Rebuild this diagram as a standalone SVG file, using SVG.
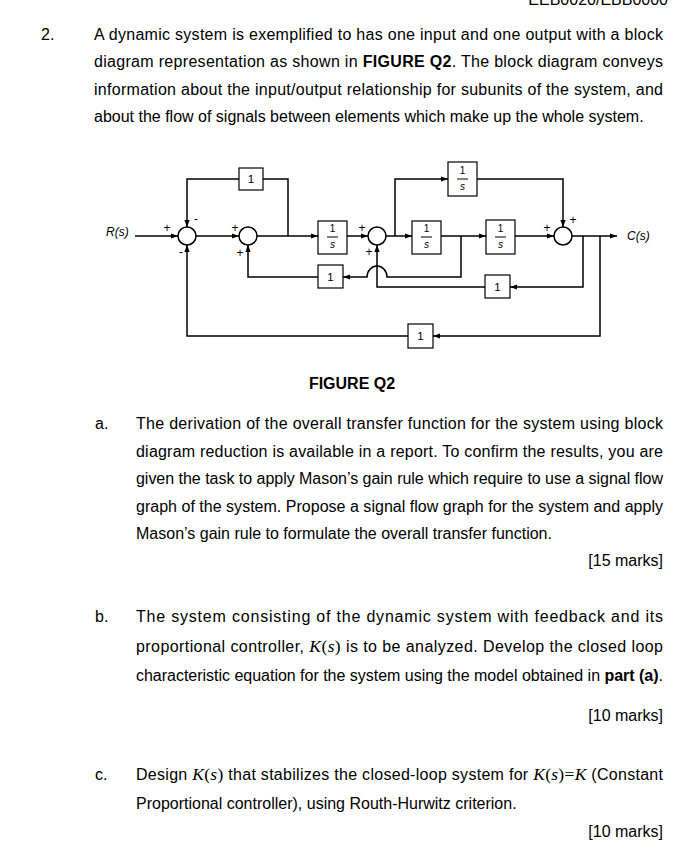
<svg xmlns="http://www.w3.org/2000/svg" width="686" height="862" viewBox="0 0 686 862">
<defs>
<marker id="arr" markerUnits="userSpaceOnUse" markerWidth="8" markerHeight="6" refX="7" refY="3" orient="auto">
<path d="M0,0.4 L7,3 L0,5.6 Z" fill="#000"/>
</marker>
<style>
.t{font-family:"Liberation Sans",Arial,sans-serif;font-size:16px;fill:#000}
.b{font-weight:bold}
.m{font-family:"Liberation Serif","Times New Roman",serif;font-size:17.5px}
.i{font-style:italic}
.w{fill:none;stroke:#000;stroke-width:1.5}
.bx{fill:#fff;stroke:#000;stroke-width:1.2}
.sj{fill:#fff;stroke:#000;stroke-width:1.5}
.lb{font-family:"Liberation Sans",Arial,sans-serif;font-size:11.5px;fill:#000;text-anchor:middle}
.fr{font-family:"Liberation Sans",Arial,sans-serif;font-size:10px;fill:#000;text-anchor:middle}
.sg{font-family:"Liberation Sans",Arial,sans-serif;font-size:12px;fill:#000;text-anchor:middle}
.io{font-family:"Liberation Sans",Arial,sans-serif;font-size:12px;font-style:italic;fill:#000}
</style>
</defs>
<rect width="686" height="862" fill="#fff"/>

<text class="t" x="668" y="5" text-anchor="end">EEB0020/EBB0000</text>

<text class="t" x="41" y="40">2.</text>
<text class="t" x="94" y="40" textLength="569" lengthAdjust="spacing">A dynamic system is exemplified to has one input and one output with a block</text>
<text class="t" x="94" y="67" textLength="569" lengthAdjust="spacing">diagram representation as shown in <tspan class="b">FIGURE Q2</tspan>. The block diagram conveys</text>
<text class="t" x="94" y="95" textLength="569" lengthAdjust="spacing">information about the input/output relationship for subunits of the system, and</text>
<text class="t" x="94" y="122">about the flow of signals between elements which make up the whole system.</text>

<g id="connectors">
<path class="w" d="M135 236 H178" marker-end="url(#arr)"/>
<path class="w" d="M196 236 H239" marker-end="url(#arr)"/>
<path class="w" d="M257 236 H318" marker-end="url(#arr)"/>
<path class="w" d="M288 236 V179 H263"/>
<path class="w" d="M239 179 H187 V227" marker-end="url(#arr)"/>
<path class="w" d="M347 236 H368" marker-end="url(#arr)"/>
<path class="w" d="M386 236 H412" marker-end="url(#arr)"/>
<path class="w" d="M395 236 V179 H448" marker-end="url(#arr)"/>
<path class="w" d="M477 179 H563 V227" marker-end="url(#arr)"/>
<path class="w" d="M441 236 H486" marker-end="url(#arr)"/>
<path class="w" d="M461 236 V277 H387 A10 11 0 0 0 367 277 H343" marker-end="url(#arr)"/>
<path class="w" d="M318 277 H248 V245" marker-end="url(#arr)"/>
<path class="w" d="M515 236 H554" marker-end="url(#arr)"/>
<path class="w" d="M572 236 H617" marker-end="url(#arr)"/>
<path class="w" d="M583 236 V287 H510" marker-end="url(#arr)"/>
<path class="w" d="M485 287 H377 V245" marker-end="url(#arr)"/>
<path class="w" d="M600 236 V336 H433" marker-end="url(#arr)"/>
<path class="w" d="M408 336 H187 V245" marker-end="url(#arr)"/>
</g>

<g id="input">
<text class="io" x="106" y="236">R(s)</text>
</g>
<g id="output">
<text class="io" x="627" y="240">C(s)</text>
</g>

<g id="sum1">
<circle class="sj" cx="187" cy="236" r="9"/>
<text class="sg" x="167" y="232">+</text>
<text class="sg" x="196" y="223">-</text>
<text class="sg" x="181" y="256">-</text>
</g>
<g id="sum2">
<circle class="sj" cx="248" cy="236" r="9"/>
<text class="sg" x="235" y="232">+</text>
<text class="sg" x="240" y="257">+</text>
</g>
<g id="sum3">
<circle class="sj" cx="377" cy="236" r="9"/>
<text class="sg" x="362" y="232">+</text>
<text class="sg" x="369" y="256">+</text>
</g>
<g id="sum4">
<circle class="sj" cx="563" cy="236" r="9"/>
<text class="sg" x="547" y="232">+</text>
<text class="sg" x="573" y="224">+</text>
</g>

<g id="gain-top">
<rect class="bx" x="239" y="168" width="24" height="22"/>
<text class="lb" x="251" y="183">1</text>
</g>
<g id="int1">
<rect class="bx" x="318" y="221" width="29" height="33"/>
<text class="fr" x="332.5" y="232">1</text>
<line x1="327" y1="237" x2="338" y2="237" stroke="#000" stroke-width="1"/>
<text class="fr i" x="332.5" y="248">s</text>
</g>
<g id="int-top">
<rect class="bx" x="448" y="162" width="29" height="34"/>
<text class="fr" x="462.5" y="174">1</text>
<line x1="457" y1="179" x2="468" y2="179" stroke="#000" stroke-width="1"/>
<text class="fr i" x="462.5" y="190">s</text>
</g>
<g id="int2">
<rect class="bx" x="412" y="221" width="29" height="33"/>
<text class="fr" x="426.5" y="232">1</text>
<line x1="421" y1="237" x2="432" y2="237" stroke="#000" stroke-width="1"/>
<text class="fr i" x="426.5" y="248">s</text>
</g>
<g id="int3">
<rect class="bx" x="486" y="220" width="29" height="34"/>
<text class="fr" x="500.5" y="232">1</text>
<line x1="495" y1="237" x2="506" y2="237" stroke="#000" stroke-width="1"/>
<text class="fr i" x="500.5" y="248">s</text>
</g>
<g id="gain-mid">
<rect class="bx" x="318" y="265" width="25" height="23"/>
<text class="lb" x="330.5" y="281">1</text>
</g>
<g id="gain-right">
<rect class="bx" x="485" y="275" width="25" height="23"/>
<text class="lb" x="497.5" y="291">1</text>
</g>
<g id="gain-bottom">
<rect class="bx" x="408" y="324" width="25" height="24"/>
<text class="lb" x="420.5" y="340">1</text>
</g>

<text class="t b" x="352" y="389" text-anchor="middle">FIGURE Q2</text>

<text class="t" x="95" y="429">a.</text>
<text class="t" x="136" y="429" textLength="527" lengthAdjust="spacing">The derivation of the overall transfer function for the system using block</text>
<text class="t" x="136" y="457" textLength="527" lengthAdjust="spacing">diagram reduction is available in a report. To confirm the results, you are</text>
<text class="t" x="136" y="484" textLength="527" lengthAdjust="spacing">given the task to apply Mason’s gain rule which require to use a signal flow</text>
<text class="t" x="136" y="512" textLength="527" lengthAdjust="spacing">graph of the system. Propose a signal flow graph for the system and apply</text>
<text class="t" x="136" y="539">Mason’s gain rule to formulate the overall transfer function.</text>
<text class="t" x="663" y="566" text-anchor="end">[15 marks]</text>

<text class="t" x="95" y="622">b.</text>
<text class="t" x="136" y="622" textLength="527" lengthAdjust="spacing">The system consisting of the dynamic system with feedback and its</text>
<text class="t" x="136" y="652" textLength="527" lengthAdjust="spacing">proportional controller, <tspan class="m i">K</tspan><tspan class="m">(</tspan><tspan class="m i">s</tspan><tspan class="m">)</tspan> is to be analyzed. Develop the closed loop</text>
<text class="t" x="136" y="681" textLength="527" lengthAdjust="spacing">characteristic equation for the system using the model obtained in <tspan class="b">part (a)</tspan>.</text>
<text class="t" x="663" y="721" text-anchor="end">[10 marks]</text>

<text class="t" x="95" y="780">c.</text>
<text class="t" x="136" y="780" textLength="527" lengthAdjust="spacing">Design <tspan class="m i">K</tspan><tspan class="m">(</tspan><tspan class="m i">s</tspan><tspan class="m">)</tspan> that stabilizes the closed-loop system for <tspan class="m i">K</tspan><tspan class="m">(</tspan><tspan class="m i">s</tspan><tspan class="m">)=</tspan><tspan class="m i">K</tspan> (Constant</text>
<text class="t" x="136" y="809">Proportional controller), using Routh-Hurwitz criterion.</text>
<text class="t" x="663" y="837" text-anchor="end">[10 marks]</text>
</svg>
